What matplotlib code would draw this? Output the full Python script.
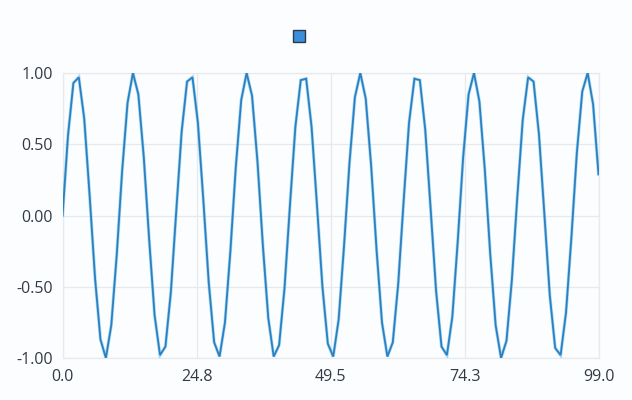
import matplotlib
matplotlib.use("Agg")
import matplotlib.pyplot as plt
from matplotlib.lines import Line2D

x_values = list(range(100))
y_values = [
    0.00, 0.56, 0.93, 0.97, 0.68, 0.14, -0.44, -0.87, -1.00, -0.77,
    -0.28, 0.31, 0.79, 1.00, 0.85, 0.41, -0.17, -0.70, -0.98, -0.92,
    -0.54, 0.03, 0.59, 0.94, 0.97, 0.65, 0.11, -0.47, -0.89, -0.99,
    -0.75, -0.25, 0.34, 0.81, 1.00, 0.84, 0.38, -0.21, -0.72, -0.99,
    -0.91, -0.51, 0.07, 0.62, 0.95, 0.96, 0.62, 0.07, -0.50, -0.90,
    -0.99, -0.73, -0.21, 0.37, 0.83, 1.00, 0.82, 0.35, -0.24, -0.75,
    -0.99, -0.89, -0.48, 0.10, 0.65, 0.96, 0.95, 0.60, 0.04, -0.53,
    -0.92, -0.98, -0.71, -0.18, 0.41, 0.85, 1.00, 0.80, 0.32, -0.27,
    -0.77, -1.00, -0.88, -0.45, 0.13, 0.67, 0.97, 0.94, 0.57, 0.01,
    -0.56, -0.93, -0.98, -0.68, -0.15, 0.44, 0.87, 1.00, 0.78, 0.29,
]
x_ticks = [0.0, 24.75, 49.5, 74.25, 99.0]
x_tick_labels = ["0.0", "24.8", "49.5", "74.3", "99.0"]
y_ticks = [-1.0, -0.5, 0.0, 0.5, 1.0]
y_tick_labels = ["-1.00", "-0.50", "0.00", "0.50", "1.00"]

plt.rcParams['font.family'] = ['Open Sans', 'DejaVu Sans']

fig = plt.figure(figsize=(6.32, 4.0), dpi=100)
fig.patch.set_facecolor('#fcfdfe')
ax = fig.add_axes([0.099, 0.105, 0.848, 0.7125])
ax.set_facecolor('#fcfdfe')

ax.plot(x_values, y_values, color='#5ab4ea', lw=2.3, alpha=0.5, solid_joinstyle='miter', zorder=3)
ax.plot(x_values, y_values, color='#2a80c0', lw=1.3, solid_joinstyle='miter', zorder=4)

ax.set_xlim(0, 99)
ax.set_ylim(-1.0, 1.0)
ax.set_xticks(x_ticks)
ax.set_xticklabels(x_tick_labels)
ax.set_yticks(y_ticks)
ax.set_yticklabels(y_tick_labels)
ax.grid(True, color='#e6e9ee', lw=0.9)
ax.set_axisbelow(True)
for s in ax.spines.values():
    s.set_color('#e6e9ee')
    s.set_linewidth(0.9)
ax.tick_params(length=0, labelsize=11.5, colors='#333a45')
ax.tick_params(axis='y', pad=7)
ax.tick_params(axis='x', pad=8)

handle = Line2D([], [], marker='s', linestyle='none', markersize=8,
                markerfacecolor='#3a8fdc', markeredgecolor='#2b3a4a', markeredgewidth=1.0)
fig.legend([handle], [''], loc='center', bbox_to_anchor=(0.473, 0.906),
           frameon=False, handlelength=0.6, handletextpad=0.0, borderpad=0)

fig.savefig('out.png', dpi=100, facecolor=fig.get_facecolor())
